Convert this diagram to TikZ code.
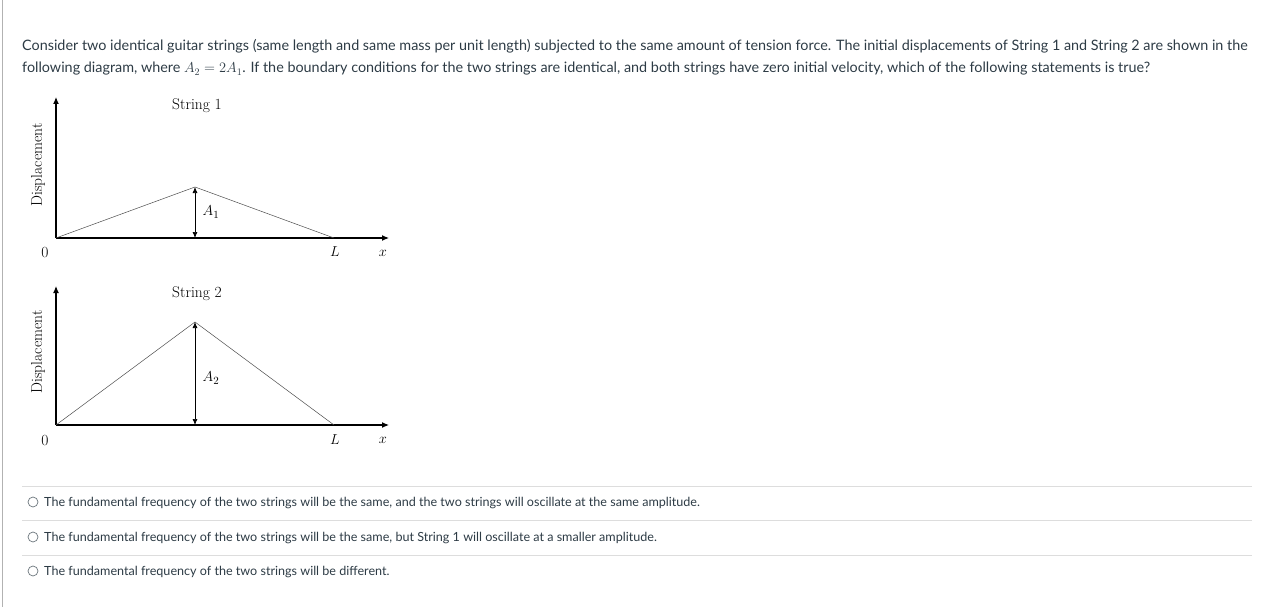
\documentclass[tikz,border=0pt]{standalone}
\usepackage{fontspec}
\setmainfont{Lato}
\newfontfamily\lmfont{Latin Modern Roman}
\usetikzlibrary{arrows.meta}
\definecolor{txt}{HTML}{2D3B45}
\definecolor{sep}{HTML}{DDDDDD}
\tikzset{
  qtext/.style={anchor=base west,inner sep=0pt,text=txt,font=\fontsize{14.37}{16}\selectfont},
  opttext/.style={anchor=base west,inner sep=0pt,text=txt,font=\fontsize{12.58}{14}\selectfont},
  radio/.style={circle,draw=txt!70,line width=0.7pt,minimum size=10pt,inner sep=0pt},
  axis/.style={line width=1.1pt,-{Latex[length=7pt,width=6pt]}},
  curve/.style={draw=black!70,line width=0.5pt},
  amp/.style={line width=0.7pt,{Latex[length=6pt,width=5pt]}-{Latex[length=6pt,width=5pt]}},
  lbl/.style={inner sep=0pt,font=\lmfont\fontsize{15.5}{17}\selectfont},
  seprule/.style={draw=sep,line width=0.8pt}
}
\begin{document}
\begin{tikzpicture}[x=1pt,y=-1pt]
\useasboundingbox (0,0) rectangle (1271,607);
\draw[draw=black!30,line width=0.8pt] (2,0) -- (2,607);
\node[qtext] (q1) at (22,51) {Consider two identical guitar strings (same length and same mass per unit length) subjected to the same amount of tension force. The initial displacements of String 1 and String 2 are shown in the};
\node[qtext] (q2) at (22,73) {following diagram, where $A_2=2A_1$. If the boundary conditions for the two strings are identical, and both strings have zero initial velocity, which of the following statements is true?};
% String 1
\coordinate (o1) at (56,238);
\coordinate (yt1) at (56,97);
\coordinate (xt1) at (389,238);
\coordinate (p1) at (195,187);
\coordinate (b1) at (195,238);
\coordinate (l1) at (334,238);
\draw[axis] (o1) -- (yt1);
\draw[axis] (o1) -- (xt1);
\draw[curve] (o1) -- (p1) -- (l1);
\draw[amp] (p1) -- (b1);
\node[lbl] (s1) at (197,106) {String 1};
\node[lbl,rotate=90] (d1) at (38,165) {Displacement};
\node[lbl] (a1) at (211,212) {$A_1$};
\node[lbl] (z1) at (45,252) {0};
\node[lbl] (L1) at (335,252) {$L$};
\node[lbl] (x1) at (383,253) {$x$};
% String 2
\coordinate (o2) at (56,425);
\coordinate (yt2) at (56,286);
\coordinate (xt2) at (389,425);
\coordinate (p2) at (195,322);
\coordinate (b2) at (195,425);
\coordinate (l2) at (334,425);
\draw[axis] (o2) -- (yt2);
\draw[axis] (o2) -- (xt2);
\draw[curve] (o2) -- (p2) -- (l2);
\draw[amp] (p2) -- (b2);
\node[lbl] (s2) at (197,294) {String 2};
\node[lbl,rotate=90] (d2) at (38,352) {Displacement};
\node[lbl] (a2) at (211,378) {$A_2$};
\node[lbl] (z2) at (45,440) {0};
\node[lbl] (L2) at (335,440) {$L$};
\node[lbl] (x2) at (383,440) {$x$};
% options
\draw[seprule] (22,486) -- (1252,486);
\draw[seprule] (22,520) -- (1252,520);
\draw[seprule] (22,555) -- (1252,555);
\node[radio] (r1) at (33,502) {};
\node[radio] (r2) at (33,537) {};
\node[radio] (r3) at (33,571) {};
\node[opttext] (t1) at (44,506) {The fundamental frequency of the two strings will be the same, and the two strings will oscillate at the same amplitude.};
\node[opttext] (t2) at (44,541) {The fundamental frequency of the two strings will be the same, but String 1 will oscillate at a smaller amplitude.};
\node[opttext] (t3) at (44,575) {The fundamental frequency of the two strings will be different.};
\end{tikzpicture}
\end{document}
